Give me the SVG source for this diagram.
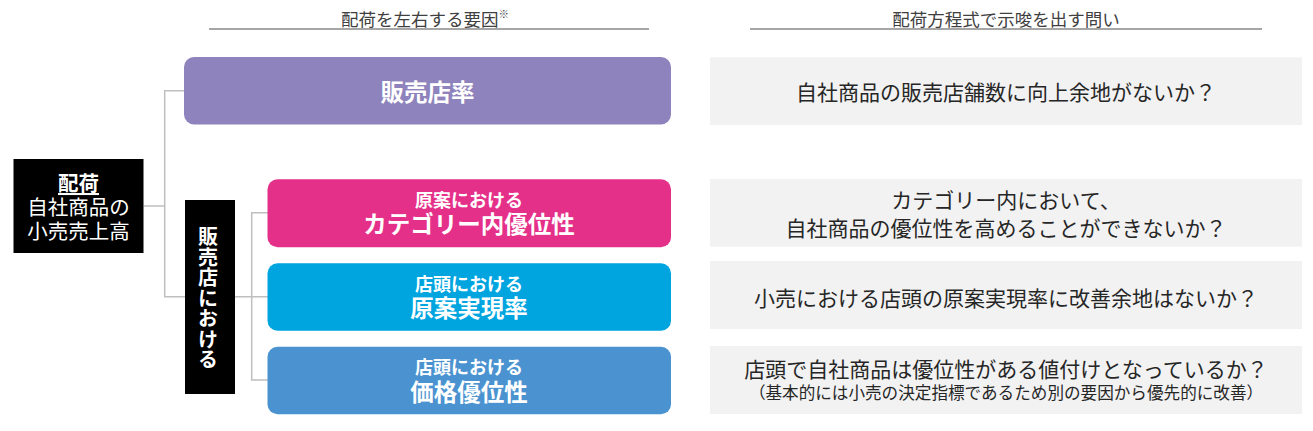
<svg xmlns="http://www.w3.org/2000/svg" width="1313" height="431" viewBox="0 0 1313 431">
<style>
.jp{font-family:"Noto Sans CJK JP","Noto Sans CJK SC",sans-serif}
.hdr{font-size:17.5px;fill:#404040}
.q{font-size:21px;fill:#262626}
.qs{font-size:16.6px}
.w{fill:#ffffff}
.b{font-weight:bold}
.sm{font-size:18px}
.lg{font-size:23.5px}
.conn{stroke:#BFBFBF;stroke-width:1.5;fill:none}
.rule{stroke:#A6A6A6;stroke-width:2}
.gray{fill:#F2F2F2}
</style>
<rect width="1313" height="431" fill="#ffffff"/>
<g id="headers">
<text class="jp hdr" x="425" y="18" text-anchor="middle" dominant-baseline="central">配荷を左右する要因<tspan font-size="10.5" dy="-5">※</tspan></text>
<line class="rule" x1="209" y1="29" x2="649" y2="29"/>
<text class="jp hdr" x="1006" y="18" text-anchor="middle" dominant-baseline="central">配荷方程式で示唆を出す問い</text>
<line class="rule" x1="750" y1="29" x2="1262" y2="29"/>
</g>
<g id="connectors">
<polyline class="conn" points="184,90.7 164.7,90.7 164.7,296.7 185,296.7"/>
<line class="conn" x1="143.6" y1="206" x2="164.7" y2="206"/>
<line class="conn" x1="235" y1="296.7" x2="268" y2="296.7"/>
<polyline class="conn" points="268,212.7 251.7,212.7 251.7,380 268,380"/>
</g>
<g id="root">
<rect x="13.5" y="159" width="130" height="94" fill="#000000"/>
<text class="jp w" font-size="20.5" text-anchor="middle" dominant-baseline="central"><tspan x="78.5" y="182" font-weight="bold" text-decoration="underline">配荷</tspan><tspan x="78.5" y="205.5">自社商品の</tspan><tspan x="78.5" y="230">小売売上高</tspan></text>
</g>
<g id="store-rate">
<rect x="184" y="57" width="487" height="67.5" rx="10" fill="#8E83BC"/>
<text class="jp w b" x="427.5" y="90.5" font-size="23.5" text-anchor="middle" dominant-baseline="central">販売店率</text>
</g>
<g id="at-store">
<rect x="185" y="200" width="50" height="194" fill="#000000"/>
<text class="jp w b" x="208" y="298.5" font-size="20" letter-spacing="0.5" writing-mode="vertical-rl" style="writing-mode:vertical-rl" text-anchor="middle">販売店における</text>
</g>
<g id="category">
<rect x="267.5" y="179.3" width="403.5" height="68" rx="10" fill="#E5308A"/>
<text class="jp w b" text-anchor="middle" dominant-baseline="central"><tspan class="sm" x="469" y="198.5">原案における</tspan><tspan class="lg" x="469" y="223">カテゴリー内優位性</tspan></text>
</g>
<g id="realization">
<rect x="267.5" y="263.3" width="403.5" height="67.5" rx="10" fill="#00A5E0"/>
<text class="jp w b" text-anchor="middle" dominant-baseline="central"><tspan class="sm" x="469" y="282.5">店頭における</tspan><tspan class="lg" x="469" y="307">原案実現率</tspan></text>
</g>
<g id="price">
<rect x="267.5" y="346.7" width="403.5" height="67.5" rx="10" fill="#4A93D0"/>
<text class="jp w b" text-anchor="middle" dominant-baseline="central"><tspan class="sm" x="469" y="366">店頭における</tspan><tspan class="lg" x="469" y="390.5">価格優位性</tspan></text>
</g>
<g id="q1">
<rect class="gray" x="710" y="57.3" width="592" height="67.7"/>
<text class="jp q" x="1006" y="90.5" text-anchor="middle" dominant-baseline="central">自社商品の販売店舗数に向上余地がないか？</text>
</g>
<g id="q2">
<rect class="gray" x="710" y="179" width="592" height="67.7"/>
<text class="jp q" text-anchor="middle" dominant-baseline="central"><tspan x="1006" y="199">カテゴリー内において、</tspan><tspan x="1006" y="226.5">自社商品の優位性を高めることができないか？</tspan></text>
</g>
<g id="q3">
<rect class="gray" x="710" y="261" width="592" height="68"/>
<text class="jp q" x="1006" y="296.5" text-anchor="middle" dominant-baseline="central">小売における店頭の原案実現率に改善余地はないか？</text>
</g>
<g id="q4">
<rect class="gray" x="710" y="346" width="592" height="68"/>
<text class="jp q" text-anchor="middle" dominant-baseline="central"><tspan x="1006" y="368">店頭で自社商品は優位性がある値付けとなっているか？</tspan><tspan class="qs" x="1006" y="392">（基本的には小売の決定指標であるため別の要因から優先的に改善）</tspan></text>
</g>
</svg>
